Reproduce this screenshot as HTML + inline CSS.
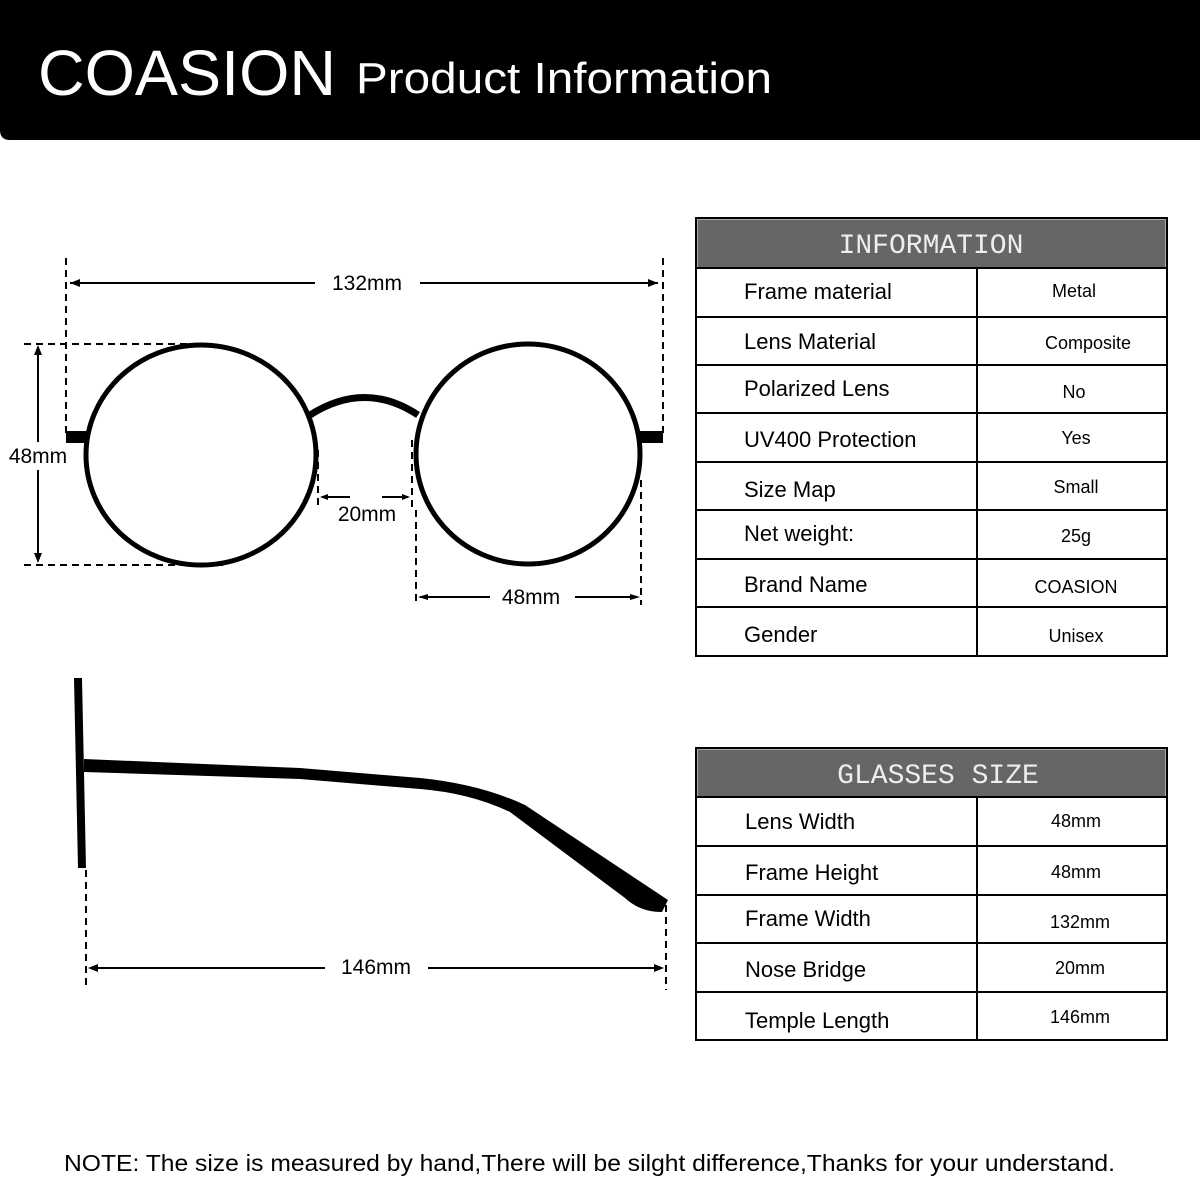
<!DOCTYPE html>
<html><head><style>
body{margin:0;background:#fff;}
svg{display:block}
</style></head><body>
<svg width="1200" height="1200" viewBox="0 0 1200 1200" xmlns="http://www.w3.org/2000/svg" font-family="Liberation Sans, DejaVu Sans, sans-serif">
<path d="M0 0H1200V140H10Q0 140 0 130Z" fill="#000"/>
<text x="38" y="95" font-size="64" fill="#fff" textLength="298" lengthAdjust="spacingAndGlyphs">COASION</text>
<text x="356" y="93" font-size="44" fill="#fff" textLength="416" lengthAdjust="spacingAndGlyphs">Product Information</text>

<!-- front view -->
<g stroke="#000" fill="none">
<g stroke-width="2" stroke-dasharray="7,5">
<line x1="66" y1="258" x2="66" y2="435"/>
<line x1="663" y1="258" x2="663" y2="435"/>
<line x1="24" y1="344" x2="210" y2="344"/>
<line x1="24" y1="565" x2="225" y2="565"/>
<line x1="318" y1="450" x2="318" y2="510"/>
<line x1="412" y1="440" x2="412" y2="510"/>
<line x1="416" y1="510" x2="416" y2="605"/>
<line x1="641" y1="480" x2="641" y2="605"/>
</g>
<g stroke-width="2">
<line x1="70" y1="283" x2="315" y2="283"/><line x1="420" y1="283" x2="658" y2="283"/>
<line x1="38" y1="350" x2="38" y2="442"/><line x1="38" y1="470" x2="38" y2="560"/>
<line x1="322" y1="497" x2="350" y2="497"/><line x1="382" y1="497" x2="408" y2="497"/>
<line x1="420" y1="597" x2="490" y2="597"/><line x1="575" y1="597" x2="637" y2="597"/>
</g>
<ellipse cx="201" cy="455" rx="115" ry="110" stroke-width="5"/>
<ellipse cx="528" cy="454" rx="112" ry="110" stroke-width="5"/>
<path d="M310 415 Q365 380 418 415" stroke-width="7"/>
</g>
<rect x="66" y="431" width="22" height="12" fill="#000"/>
<rect x="640" y="431" width="23" height="12" fill="#000"/>
<g fill="#000">
<path d="M70 283l10-4v8z"/><path d="M658 283l-10-4v8z"/>
<path d="M38 345l-4 10h8z"/><path d="M38 563l-4-10h8z"/>
<path d="M320 497l8-3v6z"/><path d="M410 497l-8-3v6z"/>
<path d="M418 597l10-3v6z"/><path d="M640 597l-10-3v6z"/>
</g>
<g font-size="21" fill="#000" text-anchor="middle">
<text x="367" y="290">132mm</text>
<text x="38" y="463">48mm</text>
<text x="367" y="521">20mm</text>
<text x="531" y="604">48mm</text>
<text x="376" y="974">146mm</text>
</g>

<!-- side view -->
<path d="M74 678H82L86 868H78Z" fill="#000"/>
<path d="M84 759 L300 768 L420 778 Q480 784 525 805 L668 900 L662 912 Q640 912 625 898 L510 812 Q470 793 420 789 L300 779 L84 772Z" fill="#000"/>
<g stroke="#000" stroke-width="2" fill="none">
<line x1="86" y1="870" x2="86" y2="990" stroke-dasharray="7,5"/>
<line x1="666" y1="905" x2="666" y2="990" stroke-dasharray="7,5"/>
<line x1="90" y1="968" x2="325" y2="968"/><line x1="428" y1="968" x2="662" y2="968"/>
</g>
<path d="M88 968l10-4v8z"/><path d="M664 968l-10-4v8z"/>

<!-- table 1 -->
<g font-size="22" fill="#000">
<rect x="697" y="219" width="469" height="49" fill="#666" stroke="#aaa" stroke-width="2"/>
<text x="931" y="253" text-anchor="middle" fill="#eee" font-size="28" font-family="Liberation Mono, monospace">INFORMATION</text>
<rect x="696" y="218" width="471" height="438" fill="none" stroke="#000" stroke-width="2"/>
<g stroke="#000" stroke-width="2">
<line x1="696" y1="268" x2="1167" y2="268"/>
<line x1="696" y1="317" x2="1167" y2="317"/>
<line x1="696" y1="365" x2="1167" y2="365"/>
<line x1="696" y1="413" x2="1167" y2="413"/>
<line x1="696" y1="462" x2="1167" y2="462"/>
<line x1="696" y1="510" x2="1167" y2="510"/>
<line x1="696" y1="559" x2="1167" y2="559"/>
<line x1="696" y1="607" x2="1167" y2="607"/>
<line x1="977" y1="268" x2="977" y2="656"/>
</g>
<text x="744" y="299">Frame material</text>
<text x="744" y="349">Lens  Material</text>
<text x="744" y="396">Polarized Lens</text>
<text x="744" y="447">UV400 Protection</text>
<text x="744" y="497">Size Map</text>
<text x="744" y="541">Net weight:</text>
<text x="744" y="592">Brand Name</text>
<text x="744" y="642">Gender</text>
<g text-anchor="middle" font-size="18">
<text x="1074" y="297">Metal</text>
<text x="1088" y="349">Composite</text>
<text x="1074" y="398">No</text>
<text x="1076" y="444">Yes</text>
<text x="1076" y="493">Small</text>
<text x="1076" y="542">25g</text>
<text x="1076" y="593">COASION</text>
<text x="1076" y="642">Unisex</text>
</g>

<!-- table 2 -->
<rect x="697" y="749" width="469" height="48" fill="#666" stroke="#aaa" stroke-width="2"/>
<text x="938" y="783" text-anchor="middle" fill="#eee" font-size="28" font-family="Liberation Mono, monospace">GLASSES SIZE</text>
<rect x="696" y="748" width="471" height="292" fill="none" stroke="#000" stroke-width="2"/>
<g stroke="#000" stroke-width="2">
<line x1="696" y1="797" x2="1167" y2="797"/>
<line x1="696" y1="846" x2="1167" y2="846"/>
<line x1="696" y1="895" x2="1167" y2="895"/>
<line x1="696" y1="943" x2="1167" y2="943"/>
<line x1="696" y1="992" x2="1167" y2="992"/>
<line x1="977" y1="797" x2="977" y2="1040"/>
</g>
<text x="745" y="829">Lens Width</text>
<text x="745" y="880">Frame Height</text>
<text x="745" y="926">Frame Width</text>
<text x="745" y="977">Nose Bridge</text>
<text x="745" y="1028">Temple Length</text>
<g text-anchor="middle" font-size="18">
<text x="1076" y="827">48mm</text>
<text x="1076" y="878">48mm</text>
<text x="1080" y="928">132mm</text>
<text x="1080" y="974">20mm</text>
<text x="1080" y="1023">146mm</text>
</g>
<text x="64" y="1171" font-size="23" textLength="1051" lengthAdjust="spacingAndGlyphs">NOTE: The size is measured by hand,There will be silght difference,Thanks for your understand.</text>
</g>
</svg>
</body></html>
